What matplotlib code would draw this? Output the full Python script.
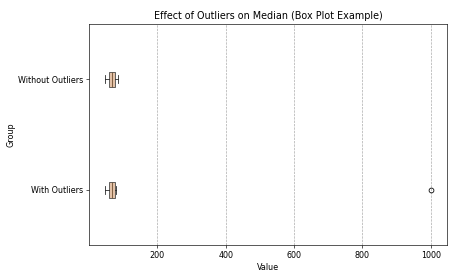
import matplotlib
matplotlib.use("Agg")
import matplotlib.pyplot as plt

groups = ["With Outliers", "Without Outliers"]
without_outliers = [48, 55, 58, 60, 65, 68, 70, 74, 76, 80, 86]
with_outliers = [48, 55, 58, 60, 65, 68, 70, 74, 76, 80, 1000]
xticks = [200, 400, 600, 800, 1000]

DPI = 57.8
fig = plt.figure(figsize=(474 / DPI, 280 / DPI), dpi=DPI)
ax = fig.add_axes([0.188, 0.125, 0.755, 0.789])
bp = ax.boxplot([with_outliers, without_outliers], vert=False, widths=0.14,
                patch_artist=True, labels=groups)
for b in bp["boxes"]:
    b.set_facecolor("#e3c2a8")
    b.set_edgecolor("#444444")
for k in ("whiskers", "caps"):
    for l in bp[k]:
        l.set_color("#222222")
for m in bp["medians"]:
    m.set_color("#6b4a2b")
ax.set_xticks(xticks)
ax.grid(axis="x", linestyle="--", color="gray", alpha=0.7)
ax.set_axisbelow(True)
ax.set_title("Effect of Outliers on Median (Box Plot Example)", fontsize=12)
ax.set_xlabel("Value", fontsize=10)
ax.set_ylabel("Group", fontsize=10)
fig.savefig("out.png", dpi=DPI)
